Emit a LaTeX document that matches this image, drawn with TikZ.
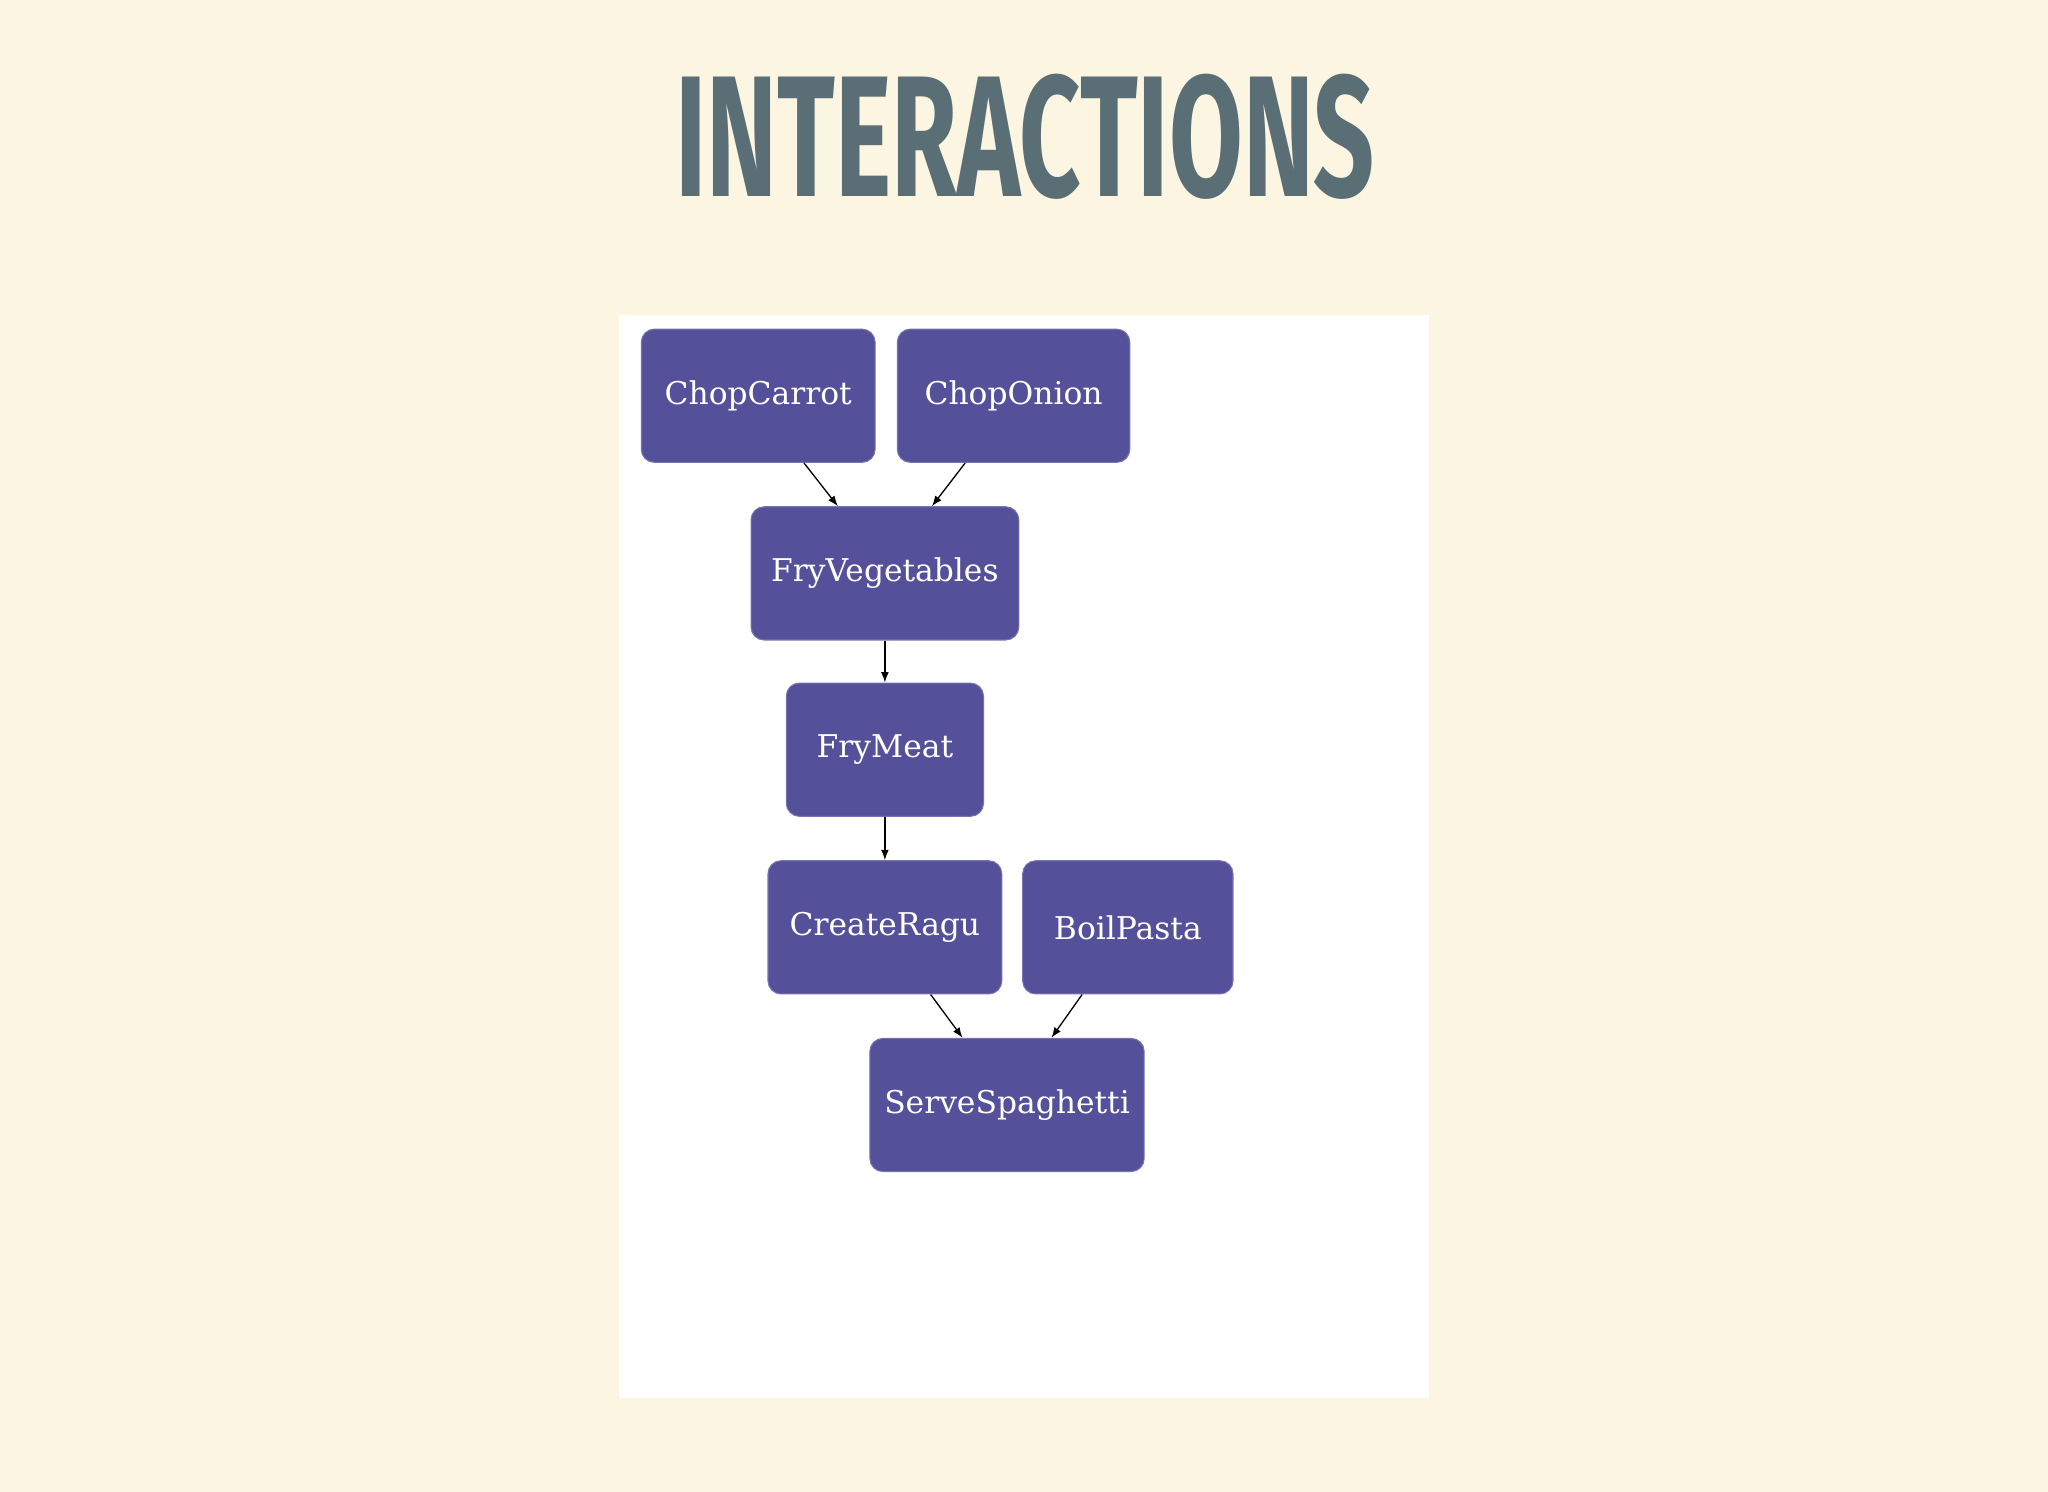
\documentclass[tikz,border=0pt]{standalone}
\usepackage{fontspec}
\setmainfont{DejaVu Serif}
\newfontfamily\titlefont{Fira Sans}
\usetikzlibrary{arrows.meta}
\definecolor{bg}{HTML}{FCF5E2}
\definecolor{boxc}{HTML}{55509A}
\definecolor{titlec}{HTML}{5A6E75}
\tikzset{
  task/.style={draw=boxc!80!white, fill=boxc, rounded corners=5pt, text=white, font=\fontsize{12}{14}\selectfont, inner sep=0pt},
  link/.style={-{Latex[length=4pt,width=3pt]}, line width=0.5pt}
}
\begin{document}
\begin{tikzpicture}[x=0.5pt,y=0.5pt]
\fill[bg] (0,0) rectangle (1568,1142);
\useasboundingbox (0,0) rectangle (1568,1142);
\node[titlec, font=\titlefont\bfseries\fontsize{66}{70}\selectfont, xscale=0.62] (title) at (785,1037) {INTERACTIONS};
\fill[white] (474,72) rectangle (1094,901);
\node[task, minimum width=89.5pt, minimum height=51pt] (cc) at (580.5,839) {ChopCarrot};
\node[task, minimum width=89pt, minimum height=51pt] (co) at (776,839) {ChopOnion};
\node[task, minimum width=102.5pt, minimum height=51pt] (fv) at (677.5,703) {FryVegetables};
\node[task, minimum width=75.5pt, minimum height=51pt] (fm) at (677.5,568) {FryMeat};
\node[task, minimum width=89.5pt, minimum height=51pt] (cr) at (677.5,432) {CreateRagu};
\node[task, minimum width=80.5pt, minimum height=51pt] (bp) at (863.5,432) {BoilPasta};
\node[task, minimum width=105pt, minimum height=51pt] (ss) at (771,296) {ServeSpaghetti};
\draw[link] ([xshift=17.5pt]cc.south) -- ([xshift=-18pt]fv.south |- fv.north);
\draw[link] ([xshift=-18.5pt]co.south) -- ([xshift=18pt]fv.south |- fv.north);
\draw[link] (fv) -- (fm);
\draw[link] (fm) -- (cr);
\draw[link] ([xshift=17.5pt]cr.south) -- ([xshift=-17pt]ss.north);
\draw[link] ([xshift=-17.5pt]bp.south) -- ([xshift=17pt]ss.north);
\end{tikzpicture}
\end{document}
